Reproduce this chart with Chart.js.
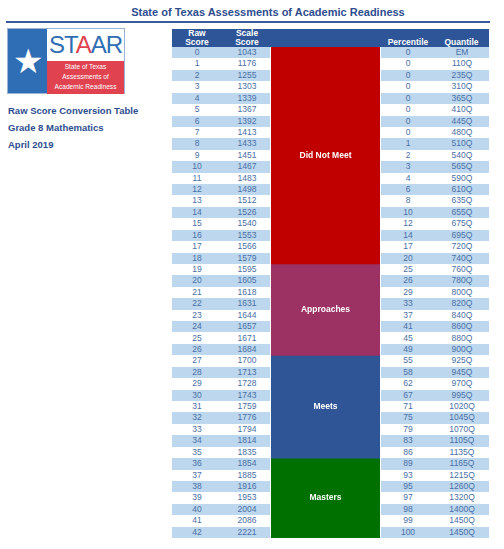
<!DOCTYPE html>
<html>
<head>
<meta charset="utf-8">
<script src="https://cdn.jsdelivr.net/npm/chart.js@4/dist/chart.umd.min.js"></script>
<style>
  body { margin: 0; background: #fff; font-family: "Liberation Sans", Arial, sans-serif; }
  #page { position: relative; width: 504px; height: 549px; }
  .abs { position: absolute; }
  #title { left: 0; width: 536px; top: 6px; text-align: center; font-weight: bold; font-size: 11px; color: #2e4d8f; }
  #rule { left: 6px; top: 21px; width: 484px; height: 2px; background: #3a5a9c; }
  .side { left: 8px; font-weight: bold; font-size: 9.5px; color: #2e4d8f; }
  #head { left: 172px; top: 29px; width: 317px; height: 18px; background: #2e5597; color: #fff; font-weight: bold; font-size: 8.5px; }
  #head div { position: absolute; text-align: center; line-height: 9px; }
  .row { position: absolute; height: 11.42px; font-size: 8.5px; color: #4a6fa5; line-height: 11.42px; }
  .row span { position: absolute; text-align: center; }
  .stripe { background: #bdd7ee; }
  #band { left: 271px; top: 47px; width: 109px; height: 491px; }
</style>
</head>
<body>
<div id="page">
  <div id="title" class="abs">State of Texas Assessments of Academic Readiness</div>
  <div id="rule" class="abs"></div>

  <div class="abs" style="left:7px;top:28px;width:118px;height:66px;border:1px solid #9db3d6;box-sizing:border-box;">
    <div class="abs" style="left:0;top:0;width:39px;height:64px;background:#2f6db5;color:#fff;font-size:34px;line-height:64px;text-align:center;">★</div>
    <div class="abs" style="left:39px;top:0;width:77px;height:32px;background:#fff;color:#2f6db5;font-size:24px;line-height:32px;text-align:center;letter-spacing:-1px;">ST<span style="color:#e0424f">A</span>AR</div>
    <div class="abs" style="left:39px;top:32px;width:77px;height:32px;background:#e0424f;color:#fff;font-size:6.6px;line-height:10px;text-align:center;padding-top:1px;">State of Texas<br>Assessments of<br>Academic Readiness</div>
  </div>
  <div class="abs side" style="top:105px;">Raw Score Conversion Table</div>
  <div class="abs side" style="top:122px;">Grade 8 Mathematics</div>
  <div class="abs side" style="top:139px;">April 2019</div>

  <div id="head" class="abs">
    <div style="left:0;width:50px;top:0;">Raw<br>Score</div>
    <div style="left:50px;width:50px;top:0;">Scale<br>Score</div>
    <div style="left:210px;width:52px;top:9px;">Percentile</div>
    <div style="left:262px;width:55px;top:9px;">Quantile</div>
  </div>
  <div id="rows"></div>
  <div id="band" class="abs"><canvas id="bandChart"></canvas></div>
</div>
<script>
const rawScores = [0,1,2,3,4,5,6,7,8,9,10,11,12,13,14,15,16,17,18,19,20,21,22,23,24,25,26,27,28,29,30,31,32,33,34,35,36,37,38,39,40,41,42];
const scaleScores = [1043,1176,1255,1303,1339,1367,1392,1413,1433,1451,1467,1483,1498,1512,1526,1540,1553,1566,1579,1595,1605,1618,1631,1644,1657,1671,1684,1700,1713,1728,1743,1759,1776,1794,1814,1835,1854,1885,1916,1953,2004,2086,2221];
const percentiles = [0,0,0,0,0,0,0,0,1,2,3,4,6,8,10,12,14,17,20,25,26,29,33,37,41,45,49,55,58,62,67,71,75,79,83,86,89,93,95,97,98,99,100];
const quantiles = ['EM','110Q','235Q','310Q','365Q','410Q','445Q','480Q','510Q','540Q','565Q','590Q','610Q','635Q','655Q','675Q','695Q','720Q','740Q','760Q','780Q','800Q','820Q','840Q','860Q','880Q','900Q','925Q','945Q','970Q','995Q','1020Q','1045Q','1070Q','1105Q','1135Q','1165Q','1215Q','1260Q','1320Q','1400Q','1450Q','1450Q'];
const bandLabels = ['Did Not Meet','Approaches','Meets','Masters'];
const bandRanges = [[0,19],[19,27],[27,36],[36,43]];
const bandColors = ['#c00000','#9b3263','#2f5597','#007000'];

// Table rows
const rowH = 11.42;
const rowsEl = document.getElementById('rows');
rawScores.forEach((r, i) => {
  const top = 47 + i * rowH;
  const cls = i % 2 === 0 ? 'row stripe' : 'row';
  rowsEl.insertAdjacentHTML('beforeend',
    `<div class="${cls}" style="left:172px;top:${top}px;width:98px;">
       <span style="left:0;width:50px;">${r}</span>
       <span style="left:50px;width:50px;">${scaleScores[i]}</span>
     </div>
     <div class="${cls}" style="left:381px;top:${top}px;width:108px;">
       <span style="left:0;width:54px;">${percentiles[i]}</span>
       <span style="left:54px;width:54px;">${quantiles[i]}</span>
     </div>`);
});

// Performance bands
const bandText = {
  id: 'bandText',
  afterDatasetsDraw(chart) {
    const c = chart.ctx;
    c.save();
    c.fillStyle = '#fff';
    c.font = 'bold 8.5px "Liberation Sans", Arial, sans-serif';
    c.textAlign = 'center';
    c.textBaseline = 'middle';
    chart.data.datasets.forEach((ds, i) => {
      const bar = chart.getDatasetMeta(i).data[0];
      c.fillText(ds.label, bar.x, (bar.y + bar.base) / 2);
    });
    c.restore();
  }
};

new Chart(document.getElementById('bandChart'), {
  type: 'bar',
  data: {
    labels: ['band'],
    datasets: bandLabels.map((l, i) => ({
      label: l,
      data: [bandRanges[i]],
      backgroundColor: bandColors[i],
      borderWidth: 0,
      barPercentage: 1,
      categoryPercentage: 1,
      grouped: false
    }))
  },
  options: {
    responsive: true,
    maintainAspectRatio: false,
    animation: false,
    layout: { padding: 0 },
    plugins: { legend: { display: false }, tooltip: { enabled: false } },
    scales: {
      x: { display: false },
      y: { display: false, min: 0, max: 43, reverse: true }
    }
  },
  plugins: [bandText]
});
</script>
</body>
</html>
